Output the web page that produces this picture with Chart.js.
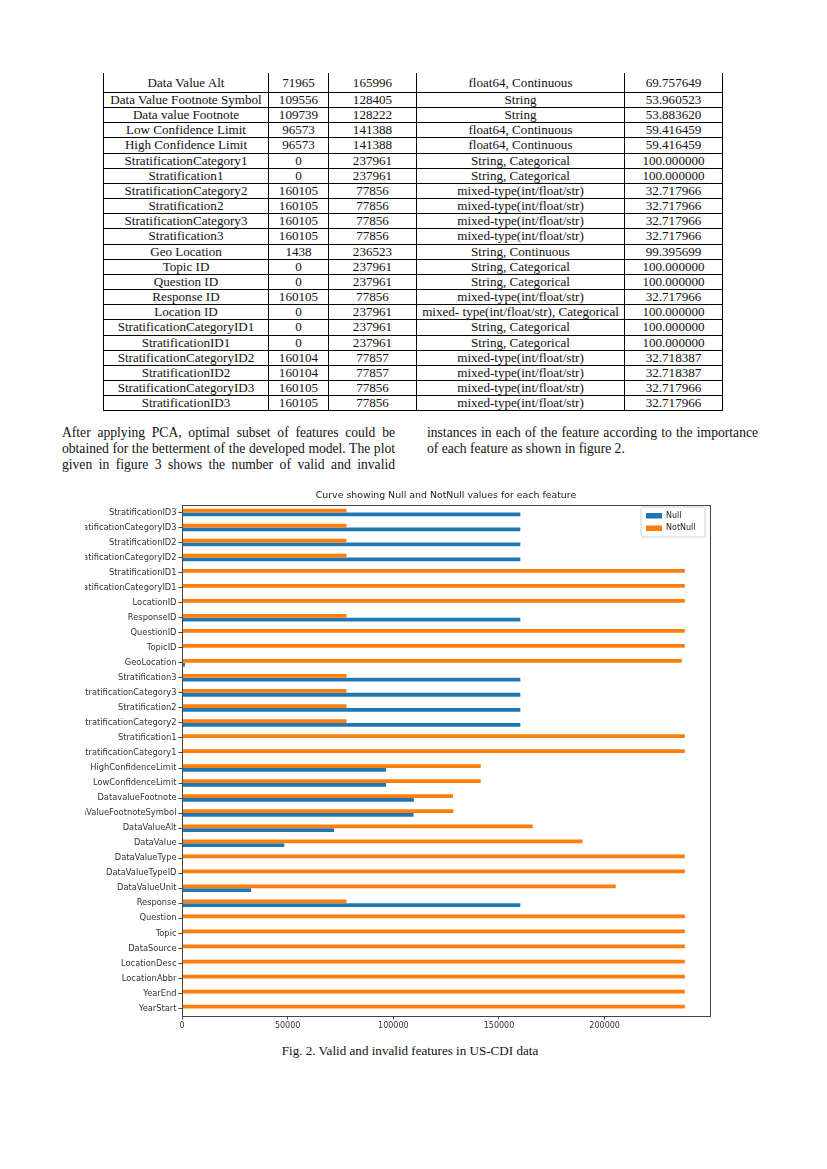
<!DOCTYPE html>
<html>
<head>
<meta charset="utf-8">
<script src="https://cdn.jsdelivr.net/npm/chart.js@4"></script>
<style>
  html, body { margin: 0; padding: 0; background: #fff; }
  body { width: 827px; height: 1169px; position: relative; overflow: hidden; font-family: "Liberation Serif", serif; color: #111; }
  #tbl { position: absolute; left: 103px; top: 73px; border-collapse: collapse; table-layout: fixed; font-size: 13.1px; }
  #tbl td { border: 1px solid #000; padding: 0; height: 14.15px; line-height: 14.15px; text-align: center; white-space: nowrap; overflow: hidden; }
  #tbl tr:first-child td { border-top: none; height: 16px; line-height: 19px; }
  .col { position: absolute; font-size: 13.6px; line-height: 16px; }
  .col div { text-align: justify; text-align-last: justify; white-space: nowrap; word-spacing: -1.5px; }
  .col div.last { text-align-last: left; word-spacing: 0; }
  #clip { position: absolute; left: 85px; top: 486px; width: 632px; height: 548px; overflow: hidden; }
  #box { position: absolute; left: -40px; top: 0; width: 672px; height: 548px; }
  #cap { position: absolute; left: 0; width: 820px; top: 1043px; text-align: center; font-size: 13.1px; }
</style>
</head>
<body>
<table id="tbl">
  <colgroup><col style="width:165px"><col style="width:60px"><col style="width:88px"><col style="width:208px"><col style="width:98px"></colgroup>
  <tbody id="tbody"></tbody>
</table>

<div class="col" style="left:62px; top:425px; width:333px;">
  <div>After applying PCA, optimal subset of features could be</div>
  <div>obtained for the betterment of the developed model. The plot</div>
  <div>given in figure 3 shows the number of valid and invalid</div>
</div>
<div class="col" style="left:427px; top:425px; width:331px;">
  <div>instances in each of the feature according to the importance</div>
  <div class="last">of each feature as shown in figure 2.</div>
</div>

<div id="clip"><div id="box"><canvas id="nullChart"></canvas></div></div>
<div id="cap">Fig. 2. Valid and invalid features in US-CDI data</div>

<script>
// table rows (continued from previous page)
const tableNames = ["Data Value Alt", "Data Value Footnote Symbol", "Data value Footnote", "Low Confidence Limit", "High Confidence Limit",
  "StratificationCategory1", "Stratification1", "StratificationCategory2", "Stratification2", "StratificationCategory3", "Stratification3",
  "Geo Location", "Topic ID", "Question ID", "Response ID", "Location ID", "StratificationCategoryID1", "StratificationID1",
  "StratificationCategoryID2", "StratificationID2", "StratificationCategoryID3", "StratificationID3"];
const tableNull = ["71965", "109556", "109739", "96573", "96573", "0", "0", "160105", "160105", "160105", "160105",
  "1438", "0", "0", "160105", "0", "0", "0", "160104", "160104", "160105", "160105"];
const tableNotNull = ["165996", "128405", "128222", "141388", "141388", "237961", "237961", "77856", "77856", "77856", "77856",
  "236523", "237961", "237961", "77856", "237961", "237961", "237961", "77857", "77857", "77856", "77856"];
const tableTypes = ["float64, Continuous", "String", "String", "float64, Continuous", "float64, Continuous",
  "String, Categorical", "String, Categorical", "mixed-type(int/float/str)", "mixed-type(int/float/str)", "mixed-type(int/float/str)", "mixed-type(int/float/str)",
  "String, Continuous", "String, Categorical", "String, Categorical", "mixed-type(int/float/str)", "mixed- type(int/float/str), Categorical",
  "String, Categorical", "String, Categorical", "mixed-type(int/float/str)", "mixed-type(int/float/str)", "mixed-type(int/float/str)", "mixed-type(int/float/str)"];
const tablePct = ["69.757649", "53.960523", "53.883620", "59.416459", "59.416459", "100.000000", "100.000000", "32.717966", "32.717966", "32.717966", "32.717966",
  "99.395699", "100.000000", "100.000000", "32.717966", "100.000000", "100.000000", "100.000000", "32.718387", "32.718387", "32.717966", "32.717966"];

// chart data, top to bottom as in the figure
const features = ["StratificationID3", "StratificationCategoryID3", "StratificationID2", "StratificationCategoryID2",
  "StratificationID1", "StratificationCategoryID1", "LocationID", "ResponseID", "QuestionID", "TopicID", "GeoLocation",
  "Stratification3", "StratificationCategory3", "Stratification2", "StratificationCategory2", "Stratification1",
  "StratificationCategory1", "HighConfidenceLimit", "LowConfidenceLimit", "DatavalueFootnote", "DataValueFootnoteSymbol",
  "DataValueAlt", "DataValue", "DataValueType", "DataValueTypeID", "DataValueUnit", "Response", "Question", "Topic",
  "DataSource", "LocationDesc", "LocationAbbr", "YearEnd", "YearStart"];
const nullCounts = [160105, 160105, 160104, 160104, 0, 0, 0, 160105, 0, 0, 1438,
  160105, 160105, 160105, 160105, 0, 0, 96573, 96573, 109739, 109556,
  71965, 48400, 0, 0, 32700, 160105, 0, 0, 0, 0, 0, 0, 0];
const notNullCounts = [77856, 77856, 77857, 77857, 237961, 237961, 237961, 77856, 237961, 237961, 236523,
  77856, 77856, 77856, 77856, 237961, 237961, 141388, 141388, 128222, 128405,
  165996, 189561, 237961, 237961, 205261, 77856, 237961, 237961, 237961, 237961, 237961, 237961, 237961];
const xTicks = [0, 50000, 100000, 150000, 200000];
const xMax = 249859;
const chartTitle = "Curve showing Null and NotNull values for each feature";

const tbody = document.getElementById("tbody");
tableNames.forEach((n, i) => {
  const tr = document.createElement("tr");
  [n, tableNull[i], tableNotNull[i], tableTypes[i], tablePct[i]].forEach(t => {
    const td = document.createElement("td");
    td.textContent = t;
    tr.appendChild(td);
  });
  tbody.appendChild(tr);
});

const BLUE = "#1f77b4", ORANGE = "#ff7f0e";

// matplotlib-like frame, title over the axes and legend inside the axes
const framePlugin = {
  id: "frame",
  afterDraw(chart) {
    const { ctx, chartArea: a } = chart;
    ctx.save();
    ctx.strokeStyle = "#444";
    ctx.lineWidth = 1;
    ctx.strokeRect(Math.round(a.left) + 0.5, Math.round(a.top) + 0.5, Math.round(a.right - a.left), Math.round(a.bottom - a.top));

    ctx.fillStyle = "#222";
    ctx.font = "9.4px 'DejaVu Sans'";
    ctx.textAlign = "center";
    ctx.textBaseline = "middle";
    ctx.fillText(chartTitle, (a.left + a.right) / 2, a.top - 9);

    // legend box
    const w = 64, h = 30;
    const x = a.right - 5 - w, y = a.top + 2;
    ctx.fillStyle = "rgba(255,255,255,0.85)";
    ctx.strokeStyle = "#d0d0d0";
    ctx.beginPath();
    ctx.roundRect(x, y, w, h, 2);
    ctx.fill();
    ctx.stroke();
    const items = chart.data.datasets.slice().reverse();
    ctx.font = "8px 'DejaVu Sans'";
    ctx.textAlign = "left";
    items.forEach((ds, i) => {
      const cy = y + 8.5 + i * 12.5;
      ctx.fillStyle = ds.backgroundColor;
      ctx.fillRect(x + 5, cy - 2.5, 16, 5.5);
      ctx.fillStyle = "#222";
      ctx.fillText(ds.label, x + 25, cy);
    });
    ctx.restore();
  }
};

new Chart("nullChart", {
  type: "bar",
  data: {
    labels: features,
    datasets: [
      { label: "NotNull", data: notNullCounts, backgroundColor: ORANGE },
      { label: "Null", data: nullCounts, backgroundColor: BLUE }
    ]
  },
  options: {
    indexAxis: "y",
    responsive: true,
    maintainAspectRatio: false,
    animation: false,
    datasets: { bar: { categoryPercentage: 0.5, barPercentage: 1.0 } },
    layout: { padding: { left: 0, right: 7, top: 19, bottom: 0 } },
    plugins: {
      legend: { display: false },
      tooltip: { enabled: false },
      title: { display: false }
    },
    scales: {
      x: {
        type: "linear",
        min: 0,
        max: xMax,
        afterFit(scale) { scale.height = 18; },
        afterBuildTicks(scale) { scale.ticks = xTicks.map(v => ({ value: v })); },
        ticks: {
          color: "#333",
          font: { family: "DejaVu Sans", size: 8 },
          padding: 2,
          maxRotation: 0,
          callback: v => String(v)
        },
        grid: { display: true, drawOnChartArea: false, drawTicks: true, tickLength: 3.5, color: "#444" },
        border: { display: true, color: "#444" }
      },
      y: {
        afterFit(scale) { scale.width = 137; },
        ticks: {
          color: "#333",
          font: { family: "DejaVu Sans", size: 8.3 },
          padding: 2,
          autoSkip: false
        },
        grid: { display: true, drawOnChartArea: false, drawTicks: true, tickLength: 3.5, color: "#444", offset: false },
        border: { display: true, color: "#444" }
      }
    }
  },
  plugins: [framePlugin]
});
</script>
</body>
</html>
